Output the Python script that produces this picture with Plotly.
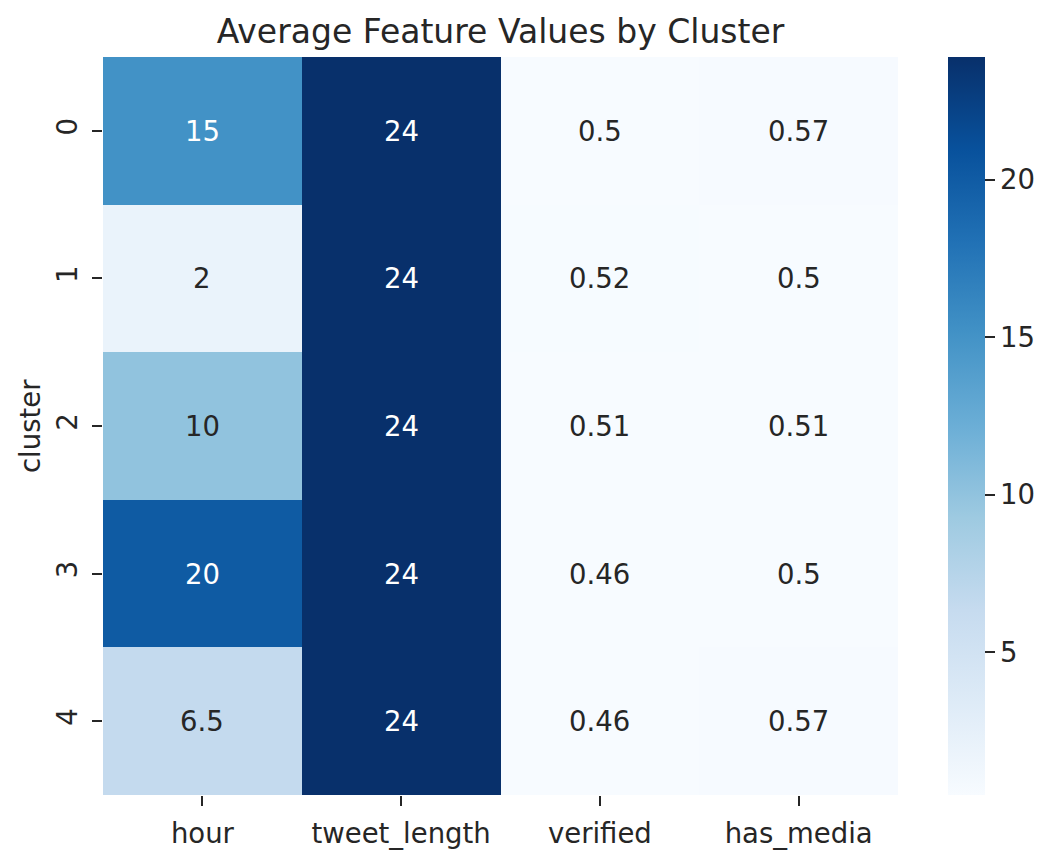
import plotly.graph_objects as go
from plotly.colors import sample_colorscale

# ---- data ----
clusters = ["0", "1", "2", "3", "4"]
features = ["hour", "tweet_length", "verified", "has_media"]
hour = [15.1, 2.0, 10.0, 20.1, 6.5]
tweet_length = [23.9, 23.9, 23.9, 23.9, 23.9]
verified = [0.50, 0.52, 0.51, 0.46, 0.46]
has_media = [0.57, 0.50, 0.51, 0.50, 0.57]
cbar_ticks = [5, 10, 15, 20]

cols = [hour, tweet_length, verified, has_media]
z = [[c[i] for c in cols] for i in range(len(clusters))]
zmin = min(min(r) for r in z)
zmax = max(max(r) for r in z)

blues = ["#f7fbff", "#deebf7", "#c6dbef", "#9ecae1", "#6baed6",
         "#4292c6", "#2171b5", "#08519c", "#08306b"]
cscale = [[i / (len(blues) - 1), c] for i, c in enumerate(blues)]

FONT = "DejaVu Sans"
DARK = "#262626"
FS = 27.5


def lum(rgbstr):
    vals = [float(v) / 255 for v in rgbstr[rgbstr.index("(") + 1:-1].split(",")]
    lin = [v / 12.92 if v <= 0.03928 else ((v + 0.055) / 1.055) ** 2.4 for v in vals]
    return 0.2126 * lin[0] + 0.7152 * lin[1] + 0.0722 * lin[2]


fig = go.Figure()
fig.add_trace(go.Heatmap(
    z=z, x=features, y=clusters, colorscale=cscale, zmin=zmin, zmax=zmax,
    xgap=0, ygap=0, hoverinfo="skip",
    colorbar=dict(
        x=1.0623, xref="paper", xanchor="left", y=0.5, yanchor="middle",
        len=1, lenmode="fraction", thickness=37, outlinewidth=0,
        xpad=0, ypad=0,
        tickvals=cbar_ticks, ticks="outside", ticklen=10, tickwidth=2,
        tickcolor=DARK, tickfont=dict(family=FONT, size=FS, color=DARK),
    ),
))

annotations = []
for i, cl in enumerate(clusters):
    for j, ft in enumerate(features):
        v = z[i][j]
        t = (v - zmin) / (zmax - zmin)
        col = sample_colorscale(cscale, [t])[0]
        tc = DARK if lum(col) > 0.408 else "white"
        annotations.append(dict(
            x=ft, y=cl, xref="x", yref="y", text=f"{v:.2g}", showarrow=False,
            font=dict(family=FONT, size=FS, color=tc),
        ))

annotations.append(dict(
    text="cluster", xref="paper", yref="paper", x=0, y=0.5, xanchor="center",
    yanchor="middle", xshift=-73, textangle=-90, showarrow=False,
    font=dict(family=FONT, size=FS, color=DARK),
))

fig.update_layout(
    width=1050, height=852,
    margin=dict(l=103, r=152, t=57, b=57, autoexpand=False),
    paper_bgcolor="white", plot_bgcolor="white",
    title=dict(text="Average Feature Values by Cluster", x=0.5, xref="paper",
               xanchor="center", y=1 - 31 / 852, yref="container", yanchor="middle",
               font=dict(family=FONT, size=33, color=DARK)),
    annotations=annotations,
    xaxis=dict(type="category", showgrid=False, zeroline=False, showline=False,
               ticks="outside", ticklen=10, tickwidth=2, tickcolor=DARK,
               tickfont=dict(family=FONT, size=FS, color=DARK), automargin=False,
               ticklabelstandoff=4),
    yaxis=dict(type="category", autorange="reversed", showgrid=False, zeroline=False,
               showline=False, ticks="outside", ticklen=10, tickwidth=2, tickcolor=DARK,
               tickangle=-90, tickfont=dict(family=FONT, size=FS, color=DARK),
               automargin=False, ticklabelstandoff=4),
)

fig.write_html("out.html")
